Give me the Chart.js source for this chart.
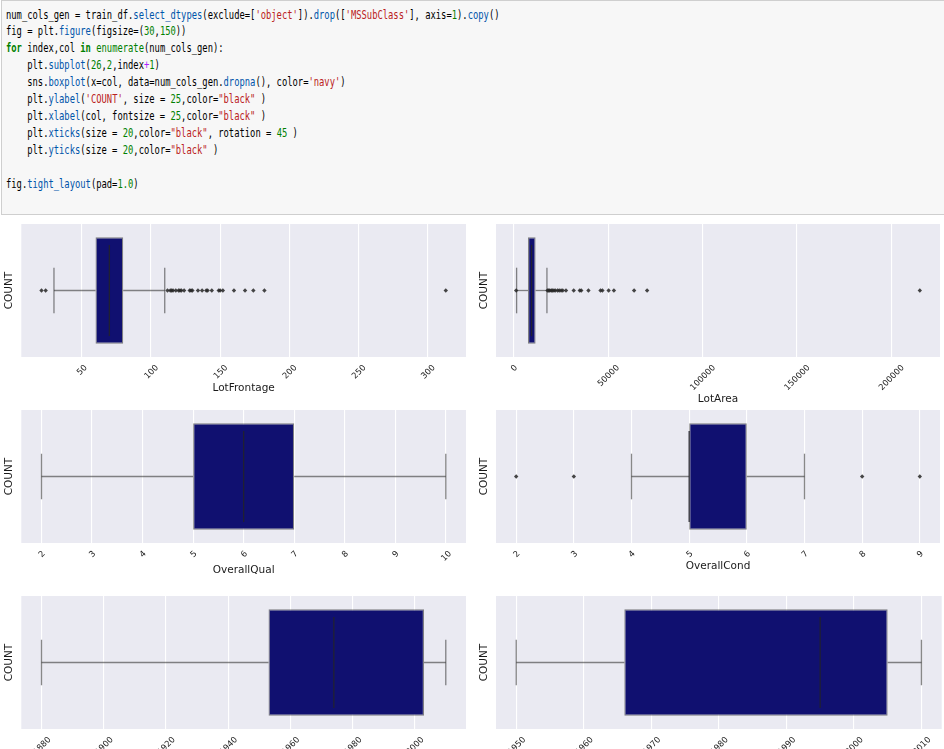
<!DOCTYPE html>
<html>
<head>
<meta charset="utf-8">
<script src="https://cdn.jsdelivr.net/npm/chart.js@4.4.1/dist/chart.umd.min.js"></script>
<style>
  html, body { margin: 0; padding: 0; background: #fff; overflow: hidden; width: 944px; height: 749px; }
  .cell { position: absolute; left: 1px; top: 0; width: 1000px; height: 215px; box-sizing: border-box;
          background: #f7f7f7; border: 1px solid #cfcfcf; overflow: hidden; }
  .cell pre { position: absolute; left: 4px; top: 5.5px; margin: 0; color: #000; white-space: pre;
              font: 12.5px/16.93px "DejaVu Sans Mono", monospace; transform: scaleX(0.705); transform-origin: 0 0; }
  .k { color: #008000; font-weight: bold; }
  .b { color: #008000; }
  .n { color: #008000; }
  .s { color: #ba2121; }
  .p { color: #0055aa; }
  .o { color: #aa22ff; }
  canvas { position: absolute; }
</style>
</head>
<body>
<div class="cell"><pre>num_cols_gen = train_df.<span class="p">select_dtypes</span>(exclude=[<span class="s">'object'</span>]).<span class="p">drop</span>([<span class="s">'MSSubClass'</span>], axis=<span class="n">1</span>).<span class="p">copy</span>()
fig = plt.<span class="p">figure</span>(figsize=(<span class="n">30</span>,<span class="n">150</span>))
<span class="k">for</span> index,col <span class="k">in</span> <span class="b">enumerate</span>(num_cols_gen):
    plt.<span class="p">subplot</span>(<span class="n">26</span>,<span class="n">2</span>,index<span class="o">+</span><span class="n">1</span>)
    sns.<span class="p">boxplot</span>(x=col, data=num_cols_gen.<span class="p">dropna</span>(), color=<span class="s">'navy'</span>)
    plt.<span class="p">ylabel</span>(<span class="s">'COUNT'</span>, size = <span class="n">25</span>,color=<span class="s">"black"</span> )
    plt.<span class="p">xlabel</span>(col, fontsize = <span class="n">25</span>,color=<span class="s">"black"</span> )
    plt.<span class="p">xticks</span>(size = <span class="n">20</span>,color=<span class="s">"black"</span>, rotation = <span class="n">45</span> )
    plt.<span class="p">yticks</span>(size = <span class="n">20</span>,color=<span class="s">"black"</span> )

fig.<span class="p">tight_layout</span>(pad=<span class="n">1.0</span>)</pre></div>

<canvas id="c0" width="470" height="186" style="left:0px;top:220px"></canvas>
<canvas id="c1" width="474" height="186" style="left:470px;top:220px"></canvas>
<canvas id="c2" width="470" height="186" style="left:0px;top:406px"></canvas>
<canvas id="c3" width="474" height="186" style="left:470px;top:406px"></canvas>
<canvas id="c4" width="470" height="186" style="left:0px;top:592px"></canvas>
<canvas id="c5" width="474" height="186" style="left:470px;top:592px"></canvas>

<script>
// box stats: [lower whisker, q1, median, q3, upper whisker]
var columns = ['LotFrontage', 'LotArea', 'OverallQual', 'OverallCond', 'YearBuilt', 'YearRemodAdd'];

var lotFrontageBox = [30, 60, 70, 80, 110];
var lotFrontageOutliers = [21, 24, 112, 114, 115, 116, 118, 120, 121, 122, 124, 128, 129, 130, 134, 137, 140, 141, 144, 149, 150, 152, 160, 168, 174, 182, 313];
var lotFrontageTicks = [50, 100, 150, 200, 250, 300];

var lotAreaBox = [1526, 7560, 9450, 11600, 17600];
var lotAreaOutliers = [1300, 17900, 18500, 19100, 19900, 20500, 21300, 22000, 23200, 24100, 25100, 26000, 27700, 31800, 35000, 35800, 39600, 46000, 47000, 50300, 53100, 63800, 70700, 215245];
var lotAreaTicks = [0, 50000, 100000, 150000, 200000];

var overallQualBox = [2, 5, 6, 7, 10];
var overallQualOutliers = [];
var overallQualTicks = [2, 3, 4, 5, 6, 7, 8, 9, 10];

var overallCondBox = [4, 5, 5, 6, 7];
var overallCondOutliers = [2, 3, 8, 9];
var overallCondTicks = [2, 3, 4, 5, 6, 7, 8, 9];

var yearBuiltBox = [1880, 1953, 1974, 2003, 2010];
var yearBuiltOutliers = [];
var yearBuiltTicks = [1880, 1900, 1920, 1940, 1960, 1980, 2000];

var yearRemodBox = [1950, 1966, 1995, 2005, 2010];
var yearRemodOutliers = [];
var yearRemodTicks = [1950, 1960, 1970, 1980, 1990, 2000, 2010];

var boxes = [lotFrontageBox, lotAreaBox, overallQualBox, overallCondBox, yearBuiltBox, yearRemodBox];
var outliers = [lotFrontageOutliers, lotAreaOutliers, overallQualOutliers, overallCondOutliers, yearBuiltOutliers, yearRemodOutliers];
var ticks = [lotFrontageTicks, lotAreaTicks, overallQualTicks, overallCondTicks, yearBuiltTicks, yearRemodTicks];

var boxColor = '#101070';
var lineColor = 'rgba(38, 38, 38, 0.55)';

// plot background, rotated tick labels and axis titles
var seabornLook = {
    id: 'seabornLook',
    beforeDraw: function(chart) {
        var ctx = chart.ctx, a = chart.chartArea;
        ctx.save();
        ctx.fillStyle = '#eaeaf2';
        ctx.fillRect(a.left, a.top, a.right - a.left, a.bottom - a.top);
        ctx.restore();
    },
    afterDraw: function(chart, args, opts) {
        var ctx = chart.ctx, a = chart.chartArea, x = chart.scales.x;
        var tickSize = 8.4, titleSize = 10.5;
        var cap = 0.73 * tickSize;
        var deepest = 0;
        ctx.save();
        ctx.fillStyle = '#1a1a1a';
        ctx.font = tickSize + 'px "DejaVu Sans"';
        x.ticks.forEach(function(t) {
            var label = String(t.value);
            var w = ctx.measureText(label).width;
            var h = (w + cap) * Math.SQRT1_2;
            deepest = Math.max(deepest, h);
            ctx.save();
            ctx.translate(x.getPixelForValue(t.value), a.bottom + 6.7 + h / 2);
            ctx.rotate(-Math.PI / 4);
            ctx.textAlign = 'center';
            ctx.textBaseline = 'alphabetic';
            ctx.fillText(label, 0, cap / 2);
            ctx.restore();
        });
        ctx.font = titleSize + 'px "DejaVu Sans"';
        ctx.textAlign = 'center';
        ctx.textBaseline = 'alphabetic';
        ctx.fillText(opts.xTitle, (a.left + a.right) / 2, a.bottom + 6.7 + deepest + 3.7 + 0.73 * titleSize);
        ctx.translate(a.left - 12, (a.top + a.bottom) / 2);
        ctx.rotate(-Math.PI / 2);
        ctx.textBaseline = 'middle';
        ctx.fillText('COUNT', 0, 0);
        ctx.restore();
    }
};

function segment(points, order, color) {
    return {
        type: 'line', indexAxis: 'x', yAxisID: 'y2', order: order,
        data: points, borderColor: color || lineColor, borderWidth: 1.3,
        pointRadius: 0, fill: false, tension: 0
    };
}

columns.forEach(function(col, i) {
    var b = boxes[i];
    var all = b.concat(outliers[i]);
    var lo = Math.min.apply(null, all), hi = Math.max.apply(null, all);
    var margin = (hi - lo) * 0.05;
    var left = i % 2 === 0;

    var datasets = [
        {
            type: 'bar', label: col, yAxisID: 'y', order: 3, grouped: false,
            data: [[b[1], b[3]]],
            backgroundColor: boxColor, borderColor: lineColor, borderWidth: 1.2, borderSkipped: false,
            categoryPercentage: 0.8, barPercentage: 1
        },
        segment([{x: b[0], y: 0}, {x: b[1], y: 0}], 4),
        segment([{x: b[3], y: 0}, {x: b[4], y: 0}], 4),
        segment([{x: b[0], y: -0.2}, {x: b[0], y: 0.2}], 4),
        segment([{x: b[4], y: -0.2}, {x: b[4], y: 0.2}], 4),
        segment([{x: b[2], y: -0.4}, {x: b[2], y: 0.4}], 1, 'rgba(34, 34, 44, 0.9)'),
        {
            type: 'line', indexAxis: 'x', yAxisID: 'y2', order: 0, showLine: false,
            data: outliers[i].map(function(v) { return {x: v, y: 0}; }),
            pointStyle: 'rectRot', pointRadius: 2.2, pointBackgroundColor: 'rgba(38, 38, 38, 0.85)', pointBorderWidth: 0
        }
    ];

    new Chart(document.getElementById('c' + i).getContext('2d'), {
        type: 'bar',
        data: { labels: [''], datasets: datasets },
        options: {
            indexAxis: 'y',
            responsive: false,
            animation: false,
            events: [],
            layout: { padding: left ? { left: 21.3, right: 4, top: 4, bottom: 49 } : { left: 26, right: 2.3, top: 4, bottom: 49 } },
            scales: {
                x: {
                    type: 'linear', min: lo - margin, max: hi + margin,
                    afterBuildTicks: function(axis) { axis.ticks = ticks[i].map(function(v) { return {value: v}; }); },
                    ticks: { display: false },
                    grid: { color: '#ffffff', lineWidth: 1.1, drawTicks: false },
                    border: { display: false }
                },
                y: { type: 'category', display: false, offset: true },
                y2: { type: 'linear', display: false, min: -0.5, max: 0.5 }
            },
            plugins: {
                legend: { display: false },
                tooltip: { enabled: false },
                seabornLook: { xTitle: col }
            }
        },
        plugins: [seabornLook]
    });
});
</script>
</body>
</html>
